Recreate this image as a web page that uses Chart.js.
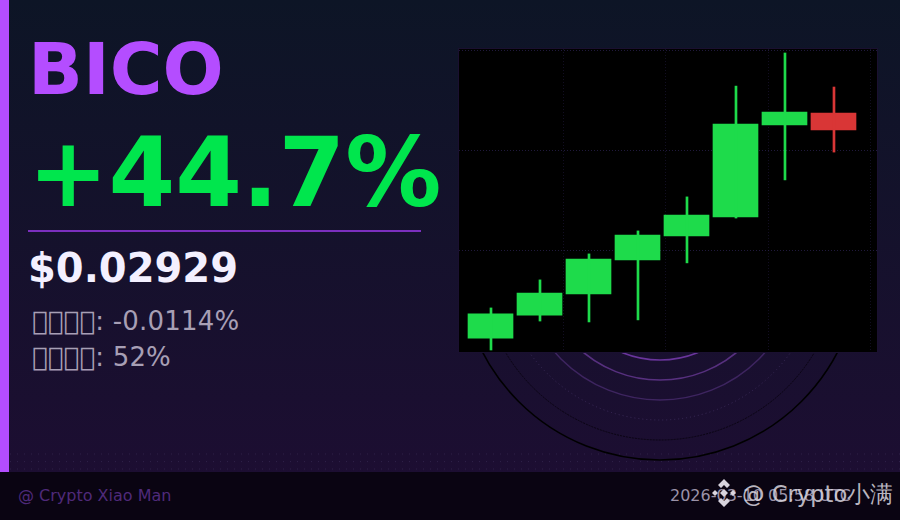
<!DOCTYPE html>
<html>
<head>
<meta charset="utf-8">
<script src="https://cdn.jsdelivr.net/npm/chart.js@4"></script>
<style>
html, body { margin: 0; padding: 0; }
body { width: 900px; height: 520px; overflow: hidden; position: relative; font-family: "DejaVu Sans", sans-serif;
  background: linear-gradient(180deg, #0d1526 0%, #1e0d33 100%); }
.abs { position: absolute; white-space: nowrap; line-height: 1; opacity: 0.999; }
#bar { position: absolute; left: 0; top: 0; width: 9px; height: 472px; background: #b44dff; }
#symbol { left: 28px; top: 33px; font-size: 72px; font-weight: bold; color: #b44dff; }
#change { left: 28px; top: 125px; font-size: 96px; font-weight: bold; color: #00e64d; }
#rule { position: absolute; left: 28px; top: 230px; width: 393px; height: 2px; background: #7b2fbe; }
#price { left: 28px; top: 248px; font-size: 40px; font-weight: bold; color: #f3f0ff; }
.stat { left: 32px; font-size: 26px; letter-spacing: 0.2px; color: #a79fb5; }
#footer { position: absolute; left: 0; top: 472px; width: 900px; height: 48px; background: #0a0412; }
#handle { left: 18px; top: 488px; font-size: 16px; color: #4f2a7a; }
#stamp { left: 670px; top: 488px; font-size: 16px; color: #9a92a8; }
#mark { left: 742px; top: 483px; font-size: 22.6px; color: #d8d4de; opacity: 0.85; }
#logo { position: absolute; left: 710px; top: 479px; }
#rings, #dots { position: absolute; left: 0; top: 0; }
#wrap { position: absolute; left: 459px; top: 49px; width: 418px; height: 303px; background: #000; box-shadow: 0 0 0 1px #1a1030; }
</style>
</head>
<body>
<svg id="dots" width="900" height="472">
  <defs><pattern id="dp" width="7" height="7.5" patternUnits="userSpaceOnUse" y="453.5">
    <rect x="3" y="0" width="1" height="1" fill="#2e2048"/></pattern></defs>
  <rect x="9" y="453" width="891" height="19" fill="url(#dp)"/>
</svg>
<svg id="rings" width="900" height="520" fill="none">
  <circle cx="660" cy="260" r="100" stroke="#6a359c" stroke-width="1.5"/>
  <circle cx="660" cy="260" r="120" stroke="#57307f" stroke-width="1.5"/>
  <circle cx="660" cy="260" r="140" stroke="#3e2560" stroke-width="1.5"/>
  <circle cx="660" cy="260" r="160" stroke="#3a2a58" stroke-width="1" stroke-dasharray="1 3"/>
  <circle cx="660" cy="260" r="180" stroke="#0a0412" stroke-width="1" stroke-dasharray="2 1"/>
  <circle cx="660" cy="260" r="200" stroke="#000" stroke-width="1.5"/>
</svg>
<div id="bar"></div>
<div class="abs" id="symbol">BICO</div>
<div class="abs" id="change">+44.7%</div>
<div id="rule"></div>
<div class="abs" id="price">$0.02929</div>
<div class="abs stat" style="top:308px">&#xE000;&#xE001;&#xE002;&#xE003;: -0.0114%</div>
<div class="abs stat" style="top:344px">&#xE000;&#xE001;&#xE002;&#xE003;: 52%</div>
<div id="wrap"><canvas id="candles" width="418" height="303"></canvas></div>
<div id="footer"></div>
<div class="abs" id="handle">@ Crypto Xiao Man</div>
<div class="abs" id="stamp">2026-03-10 05:58 UTC</div>
<svg id="logo" width="28" height="28" viewBox="0 0 28 28" fill="#d8d4de">
  <path d="M14 0l6 6-3 3-3-3-3 3-3-3z"/><path d="M14 28l6-6-3-3-3 3-3-3-3 3z"/>
  <path d="M2 14l3-3 3 3-3 3z"/><path d="M20 14l3-3 3 3-3 3z"/><path d="M14 10l4 4-4 4-4-4z"/>
</svg>
<div class="abs" id="mark">@ Crypto小满</div>
<script>
// Candles, oldest first
const xPos = [0, 1, 2, 3, 4, 5, 6, 7];
const opens = [0.02024, 0.02124, 0.02216, 0.02364, 0.02468, 0.02551, 0.02951, 0.03003];
const closes = [0.02129, 0.02220, 0.02368, 0.02472, 0.02559, 0.02955, 0.03007, 0.02929];
const highs = [0.02155, 0.02277, 0.02390, 0.02490, 0.02638, 0.03120, 0.03264, 0.03116];
const lows = [0.01972, 0.02098, 0.02094, 0.02103, 0.02351, 0.02546, 0.02712, 0.02833];
const priceTicks = [0.02407, 0.02842, 0.03277];
const timeTicks = [1.48, 3.58, 5.67, 7.76];

const upColor = '#1edb4b';
const downColor = '#d93636';
const colors = opens.map((o, i) => closes[i] >= o ? upColor : downColor);

const ctx = document.getElementById('candles').getContext('2d');
const candleChart = new Chart(ctx, {
    type: 'bar',
    data: {
        datasets: [{
            label: 'Wick',
            data: xPos.map(i => ({ x: i + 0.01, y: [lows[i], highs[i]] })),
            backgroundColor: colors,
            barThickness: 2,
            grouped: false
        }, {
            label: 'Body',
            data: xPos.map(i => ({ x: i, y: [opens[i], closes[i]] })),
            backgroundColor: colors,
            barThickness: 45,
            grouped: false
        }]
    },
    options: {
        responsive: false,
        animation: false,
        devicePixelRatio: 1,
        layout: { padding: 0 },
        plugins: { legend: { display: false }, tooltip: { enabled: false } },
        scales: {
            x: {
                type: 'linear',
                offset: false,
                min: -0.643,
                max: 7.888,
                afterBuildTicks: axis => { axis.ticks = timeTicks.map(v => ({ value: v })); },
                ticks: { display: false },
                border: { display: false, dash: [1, 2] },
                grid: { offset: false, color: 'rgba(45,35,85,0.4)', lineWidth: 1, drawTicks: false }
            },
            y: {
                min: 0.019633,
                max: 0.032814,
                afterBuildTicks: axis => { axis.ticks = priceTicks.map(v => ({ value: v })); },
                ticks: { display: false },
                border: { display: false, dash: [1, 2] },
                grid: { color: 'rgba(45,35,85,0.7)', lineWidth: 1, drawTicks: false }
            }
        }
    }
});
</script>
</body>
</html>
